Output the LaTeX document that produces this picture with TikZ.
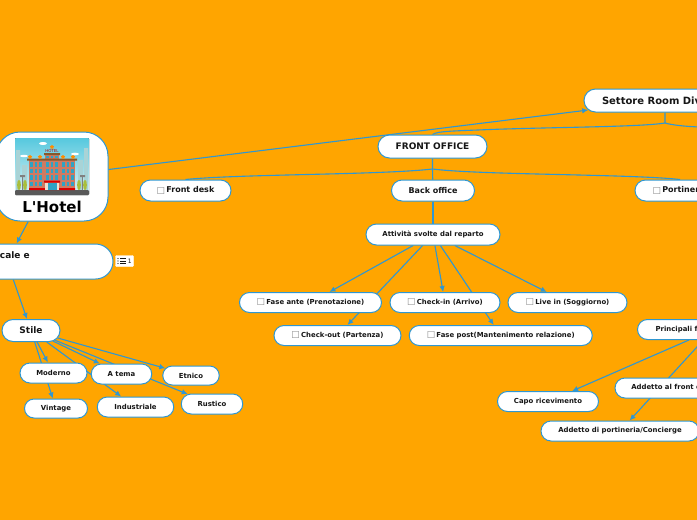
\documentclass[tikz,border=0pt]{standalone}
\usepackage{fontspec}
\setmainfont{DejaVu Sans}
\usetikzlibrary{arrows.meta,shapes.misc,shapes.geometric}
\definecolor{pageorange}{HTML}{FFA500}
\definecolor{linkblue}{HTML}{2F97D2}
\definecolor{inkdark}{HTML}{161616}
\definecolor{tickgray}{HTML}{8C8C8C}
\definecolor{skytop}{HTML}{56C8DE}
\definecolor{skylow}{HTML}{DDF3F5}
\definecolor{cityblue}{HTML}{A9D3D6}
\definecolor{brick}{HTML}{CE7A62}
\definecolor{glass}{HTML}{2FA3C4}
\definecolor{leafgreen}{HTML}{A9BE3C}
\newcommand{\fsize}[1]{\fontsize{#1}{#1}\selectfont\bfseries}
\newcommand{\tick}{\raisebox{-1.2pt}{\fontsize{9.5}{9.5}\selectfont\mdseries\textcolor{tickgray}{☐}}\hspace{1.2pt}}
\pgfdeclarelayer{paper}
\pgfdeclarelayer{links}
\pgfsetlayers{paper,links,main}
\tikzset{
  topicbox/.style={rounded rectangle,draw=linkblue,fill=white,line width=1pt,inner sep=0pt,text=inkdark},
  smallbox/.style={topicbox,minimum height=20pt,font=\fsize{6.9}},
  midbox/.style={topicbox,minimum height=21pt,font=\fsize{8}},
  linkline/.style={draw=linkblue,line width=1.1pt},
  linkarrow/.style={linkline,-{Latex[length=6pt,width=5.5pt]}}
}
\begin{document}
\begin{tikzpicture}[x=1pt,y=-1pt]
  \useasboundingbox (0,0) rectangle (697,520);
  \begin{pgfonlayer}{paper}
    \fill[pageorange] (0,0) rectangle (697,520);
  \end{pgfonlayer}

  \node[draw=linkblue,fill=white,line width=1pt,rounded corners=24pt,minimum width=112pt,minimum height=89pt,inner sep=0pt] (hotel) at (52,176.5) {};
  \node[inner sep=0pt,text=black,font=\fsize{15}] (hotelname) at (52,207) {L\textquotesingle Hotel};

  \begin{scope}
    \fill[top color=skytop,bottom color=skylow,rounded corners=1pt] (15,138) rectangle (89,195);
    \fill[cityblue] (16,150) rectangle (20,191) (22,165) rectangle (27,191) (78,160) rectangle (83,191) (84,148) rectangle (88,191);
    \fill[white] (43,143.5) ellipse (4 and 1.5) (24,156) ellipse (4 and 1.2) (75,154) ellipse (4 and 1.3);
    \fill[gray!70!black,rounded corners=1pt] (15,190) rectangle (89,195);
    \fill[brick] (29,160) rectangle (75,190);
    \fill[brick] (45,154) rectangle (59,160);
    \fill[brown!70!black] (27,158.5) rectangle (77,160.5) (44,153) rectangle (60,155);
    \foreach \wx in {30,34.5,39,46,50.5,55,62,66.5,71}
      \foreach \wy in {162,168.5,175}
        \fill[glass] (\wx,\wy) rectangle +(2.8,4.6);
    \foreach \wx in {46,50.5,55}
      \fill[glass] (\wx,155.5) rectangle +(2.8,2.5);
    \foreach \wx in {30,34.5,39,62,66.5,71}
      \fill[glass] (\wx,181.5) rectangle +(2.8,4.6);
    \fill[red!85!black] (29,188) rectangle (75,190) (44,180.5) rectangle (60,182.5);
    \fill[white!75!brown] (45,182.5) rectangle (59,190);
    \fill[glass] (47.5,183) rectangle (56.5,190);
    \foreach \sx/\sy/\sname in {30/157/stara,40/157/starb,52/147/starc,63/157/stard,73/157/stare}
      \node[star,star points=5,fill=orange!90!yellow,inner sep=0pt,minimum size=4.5pt] (\sname) at (\sx,\sy) {};
    \node[inner sep=0pt,text=red!70!black,font=\fontsize{4}{4}\selectfont] (hotelsign) at (52,150.8) {HOTEL};
    \foreach \tx in {19,25,79,85}
      \fill[leafgreen] (\tx,185) ellipse (1.9 and 5.2);
    \fill[gray] (22,176) rectangle (22.8,190) (82,176) rectangle (82.8,190);
    \fill[gray] (20,175) rectangle (25,177) (80,175) rectangle (85,177);
  \end{scope}

  \node[topicbox,minimum width=162pt,minimum height=23pt,font=\fsize{10}] (settore) at (665,100.5) {Settore Room Division};
  \node[topicbox,minimum width=109pt,minimum height=23pt,font=\fsize{9}] (frontoffice) at (432.5,146.5) {FRONT OFFICE};
  \node[midbox,minimum width=91pt] (frontdesk) at (185.5,190.5) {\tick Front desk};
  \node[midbox,minimum width=83pt] (backoffice) at (433,190.5) {Back office};
  \node[midbox,minimum width=90pt] (portineria) at (680,190.5) {\tick Portineria};
  \node[smallbox,minimum width=134pt,minimum height=21pt] (attivita) at (433,234.5) {Attività svolte dal reparto};
  \node[smallbox,minimum width=142pt] (faseante) at (310.5,302.5) {\tick Fase ante (Prenotazione)};
  \node[smallbox,minimum width=110pt] (checkin) at (445,302.5) {\tick Check-in (Arrivo)};
  \node[smallbox,minimum width=119pt] (livein) at (567.5,302.5) {\tick Live in (Soggiorno)};
  \node[smallbox,minimum width=127pt] (checkout) at (337.5,335.5) {\tick Check-out (Partenza)};
  \node[smallbox,minimum width=183pt] (fasepost) at (500.75,335.5) {\tick Fase post(Mantenimento relazione)};
  \node[smallbox,minimum width=151pt] (principali) at (713,329.5) {Principali figure professionali};
  \node[smallbox,minimum width=170pt] (addfront) at (700,388) {Addetto al front office/Receptionist};
  \node[smallbox,minimum width=101pt] (capo) at (548,401.5) {Capo ricevimento};
  \node[smallbox,minimum width=158pt] (addport) at (620,431) {Addetto di portineria/Concierge};

  \node[topicbox,minimum width=212pt,minimum height=35pt,text width=200pt,align=left,font=\fontsize{9}{13}\selectfont\bfseries] (locale) at (7,261.5) {\hspace*{93pt}cale e\\~};
  \node[draw=white,fill=white,rounded corners=1pt,minimum width=18pt,minimum height=11pt,inner sep=0pt] (badge) at (124.5,261) {};
  \node[inner sep=0pt,text=inkdark,font=\fontsize{6}{6}\selectfont] (badgecount) at (129.8,261.2) {1};
  \foreach \ly in {258.5,261,263.5} {
    \fill[inkdark] (118,\ly) circle (0.6);
    \draw[inkdark,line width=0.6pt] (120,\ly) -- (126,\ly);
  }

  \node[topicbox,minimum width=58pt,minimum height=22pt,font=\fsize{9}] (stile) at (31,330.5) {Stile};
  \node[smallbox,minimum width=67pt] (moderno) at (53.5,373) {Moderno};
  \node[smallbox,minimum width=60.5pt] (atema) at (121.5,374) {A tema};
  \node[smallbox,minimum width=56.5pt,minimum height=19pt] (etnico) at (191,375.5) {Etnico};
  \node[smallbox,minimum width=63pt,minimum height=19pt] (vintage) at (56,408.5) {Vintage};
  \node[smallbox,minimum width=76.5pt] (industriale) at (135.5,407) {Industriale};
  \node[smallbox,minimum width=61.5pt] (rustico) at (212,404) {Rustico};

  \coordinate (settorefork) at (665,123);
  \coordinate (settoreright) at (700,127);
  \coordinate (officefork) at (432.5,169);

  \begin{pgfonlayer}{links}
    \begin{scope}[linkarrow]
      \draw (hotel) to (settore);
      \draw (hotel) to (locale);
      \draw (locale) to (stile);
      \draw (stile) to (moderno);
      \draw (stile) to (vintage);
      \draw (stile) to (atema);
      \draw (stile) to (industriale);
      \draw (stile) to (etnico);
      \draw (stile) to (rustico);
      \draw (attivita) to (faseante);
      \draw (attivita) to (checkout);
      \draw (attivita) to (checkin);
      \draw (attivita) to (fasepost);
      \draw (attivita) to (livein);
      \draw (principali) to (capo);
      \draw (principali) to (addport);
    \end{scope}
    \begin{scope}[linkline]
      \draw (settore) to (settorefork);
      \draw (settorefork) .. controls (672,125) and (685,126.5) .. (settoreright);
      \draw (settorefork) .. controls (640,127) and (560,127) .. (490,129.5) .. controls (455,131) and (437,131) .. (frontoffice.north);
      \draw (frontoffice) to (officefork);
      \draw (officefork) .. controls (380,175) and (240,174) .. (frontdesk.north);
      \draw (officefork) to (backoffice);
      \draw (officefork) .. controls (480,175) and (630,174) .. (portineria.north);
      \draw (backoffice) to (attivita);
    \end{scope}
  \end{pgfonlayer}
\end{tikzpicture}
\end{document}
